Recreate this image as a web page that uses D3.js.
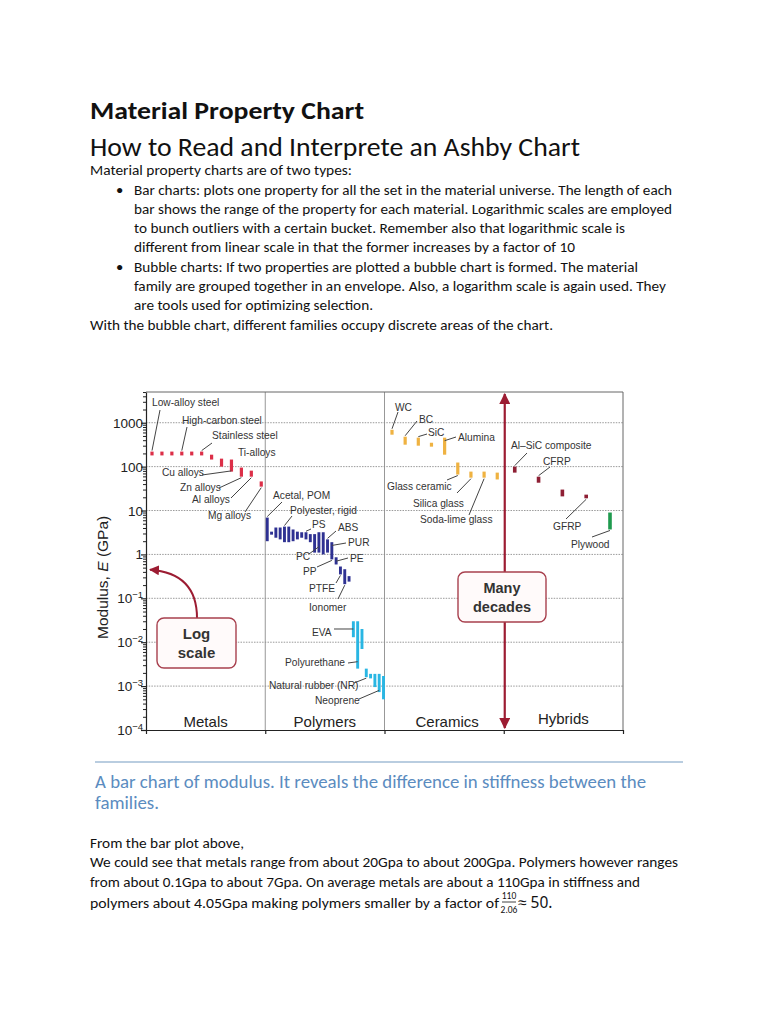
<!DOCTYPE html>
<html>
<head>
<meta charset="utf-8">
<script src="https://cdn.jsdelivr.net/npm/d3@7"></script>
<style>
	body { margin: 0; background: #fff; }
	svg { display: block; }
</style>
</head>
<body>
<svg id="page" width="768" height="1024"></svg>
<script>
// modulus ranges (GPa), one entry per bar
const families = ['Metals', 'Polymers', 'Ceramics', 'Hybrids']
const metalsLo = [180, 180, 180, 180, 180, 180, 145, 100, 77, 59, 59, 35]
const metalsHi = [220, 220, 220, 220, 220, 220, 187, 152, 145, 95, 81, 46]
const polymersLo = [2.0, 2.9, 2.4, 2.2, 1.9, 1.9, 2.0, 2.2, 2.4, 2.2, 1.9, 1.1, 1.1, 1.0, 1.1, 0.77, 0.59, 0.35, 0.21, 0.24]
const polymersHi = [6.9, 3.3, 4.1, 4.1, 4.3, 4.3, 3.7, 3.3, 3.2, 3.2, 2.9, 2.9, 3.2, 3.2, 2.2, 1.9, 0.86, 0.53, 0.46, 0.32]
const elastomersLo = [0.013, 0.0025, 0.007, 0.0016, 0.0015, 0.00095, 0.00073, 0.0005]
const elastomersHi = [0.03, 0.03, 0.02, 0.0025, 0.0019, 0.0019, 0.0019, 0.0017]
const ceramicsLo = [534, 316, 300, 285, 187, 66, 56, 56, 51]
const ceramicsHi = [690, 480, 457, 350, 457, 124, 77, 77, 73]
const hybridsLo = [73, 43, 21, 19, 3.7]
const hybridsHi = [100, 59, 30, 23, 9]
const yTickValues = [1e-4, 1e-3, 1e-2, 1e-1, 1, 10, 100, 1000]
const yTickLabels = [['10', '−4'], ['10', '−3'], ['10', '−2'], ['10', '−1'], ['1'], ['10'], ['100'], ['1000']]

// page text
const docFont = 'Carlito, Lato, sans-serif'
const chartFont = '"Liberation Sans", Arial, sans-serif'

const headLines = [
	{ t: 'Material Property Chart', x: 90, y: 119, w: 274, size: 24, weight: 700 },
	{ t: 'How to Read and Interprete an Ashby Chart', x: 90, y: 156, w: 490, size: 26.7 },
	{ t: 'Material property charts are of two types:', x: 90, y: 175, w: 262 },
	{ t: 'Bar charts: plots one property for all the set in the material universe. The length of each', x: 134, y: 194.5, w: 538 },
	{ t: 'bar shows the range of the property for each material. Logarithmic scales are employed', x: 134, y: 213.8, w: 538 },
	{ t: 'to bunch outliers with a certain bucket. Remember also that logarithmic scale is', x: 134, y: 233, w: 491 },
	{ t: 'different from linear scale in that the former increases by a factor of 10', x: 134, y: 252.4, w: 441 },
	{ t: 'Bubble charts: If two properties are plotted a bubble chart is formed. The material', x: 134, y: 271.7, w: 504 },
	{ t: 'family are grouped together in an envelope. Also, a logarithm scale is again used. They', x: 134, y: 291, w: 532 },
	{ t: 'are tools used for optimizing selection.', x: 134, y: 310.3, w: 239 },
	{ t: 'With the bubble chart, different families occupy discrete areas of the chart.', x: 90, y: 329.6, w: 463 },
	{ t: 'A bar chart of modulus. It reveals the difference in stiffness between the', x: 95, y: 788, w: 551, size: 17.3, color: '#5b8cc0' },
	{ t: 'families.', x: 95, y: 809, w: 64, size: 17.3, color: '#5b8cc0' },
	{ t: 'From the bar plot above,', x: 90, y: 848, w: 154 },
	{ t: 'We could see that metals range from about 20Gpa to about 200Gpa. Polymers however ranges', x: 90, y: 867, w: 588 },
	{ t: 'from about 0.1Gpa to about 7Gpa. On average metals are about a 110Gpa in stiffness and', x: 90, y: 886.5, w: 550 },
	{ t: 'polymers about 4.05Gpa making polymers smaller by a factor of', x: 90, y: 908, w: 409 }
]
const bulletRows = [194.5, 271.7]

// chart layout
const plot = { left: 146, right: 623, top: 392, bottom: 730 }
const colInset = { Metals: [6, 4], Polymers: [2, 1], Ceramics: [7.5, 6.5], Hybrids: [11, 13] }
const barWidth = { Metals: 3.2, Polymers: 2.9, Ceramics: 3.2, Hybrids: 3.6 }
const labelColor = '#333'
const leaderColor = '#444'
const arrowColor = '#9c1c32'

const groups = [
	{ key: 'metals', family: 'Metals', lo: metalsLo, hi: metalsHi, color: () => '#dc2f48' },
	{ key: 'polymers', family: 'Polymers', lo: polymersLo, hi: polymersHi, color: () => '#2e3192' },
	{ key: 'elastomers', family: 'Polymers', lo: elastomersLo, hi: elastomersHi, color: () => '#29b6e3' },
	{ key: 'ceramics', family: 'Ceramics', lo: ceramicsLo, hi: ceramicsHi, color: () => '#efb241' },
	{ key: 'hybrids', family: 'Hybrids', lo: hybridsLo, hi: hybridsHi, color: (i) => i === 4 ? '#1f9a4e' : '#8e1f34' }
]

// label text, text anchor (px), leader start (px), leader end on bar [group, index, 'hi' | 'lo' | value]
const annotations = [
	{ t: 'Low-alloy steel', x: 152, y: 406, from: [160, 410], to: ['metals', 0, 'hi'] },
	{ t: 'High-carbon steel', x: 182, y: 424, from: [187, 427], to: ['metals', 3, 'hi'] },
	{ t: 'Stainless steel', x: 212, y: 439, from: [212, 443], to: ['metals', 5, 'hi'] },
	{ t: 'Ti-alloys', x: 238, y: 456 },
	{ t: 'Cu alloys', x: 162, y: 476, from: [202, 475], to: ['metals', 8, 80] },
	{ t: 'Zn alloys', x: 180, y: 491, from: [219, 488], to: ['metals', 9, 'lo'] },
	{ t: 'Al alloys', x: 192, y: 503, from: [231, 498], to: ['metals', 10, 'lo'] },
	{ t: 'Mg alloys', x: 208, y: 519, from: [245, 512], to: ['metals', 11, 'lo'] },
	{ t: 'Acetal, POM', x: 273, y: 499, from: [282, 502], to: ['polymers', 0, 'hi'] },
	{ t: 'Polyester, rigid', x: 290, y: 514, from: [292, 516], to: ['polymers', 4, 'hi'] },
	{ t: 'PS', x: 312, y: 528, from: [311, 529], to: ['polymers', 9, 'hi'] },
	{ t: 'ABS', x: 338, y: 531, from: [336, 531], to: ['polymers', 14, 'hi'] },
	{ t: 'PUR', x: 348, y: 546, from: [346, 543], to: ['polymers', 15, 1.6] },
	{ t: 'PE', x: 350, y: 562, from: [348, 558], to: ['polymers', 16, 0.7] },
	{ t: 'PC', x: 296, y: 560, from: [309, 554], to: ['polymers', 12, 1.5] },
	{ t: 'PP', x: 303, y: 575, from: [317, 567], to: ['polymers', 15, 'lo'] },
	{ t: 'PTFE', x: 309, y: 592, from: [336, 583], to: ['polymers', 17, 'lo'] },
	{ t: 'Ionomer', x: 309, y: 611, from: [338, 599], to: ['polymers', 18, 'lo'] },
	{ t: 'EVA', x: 312, y: 636, from: [334, 629], to: ['elastomers', 0, 0.02] },
	{ t: 'Polyurethane', x: 285, y: 666, from: [348, 663], to: ['elastomers', 1, 0.0036] },
	{ t: 'Natural rubber (NR)', x: 269, y: 689, from: [354, 683], to: ['elastomers', 3, 'lo'] },
	{ t: 'Neoprene', x: 315, y: 704, from: [359, 699], to: ['elastomers', 6, 0.0008] },
	{ t: 'WC', x: 395, y: 411, from: [398, 412], to: ['ceramics', 0, 'hi'] },
	{ t: 'BC', x: 419, y: 423, from: [417, 421], to: ['ceramics', 1, 'hi'] },
	{ t: 'SiC', x: 428, y: 436, from: [427, 434], to: ['ceramics', 2, 'hi'] },
	{ t: 'Alumina', x: 458, y: 441, from: [456, 437], to: ['ceramics', 4, 390] },
	{ t: 'Glass ceramic', x: 387, y: 490, from: [447, 480], to: ['ceramics', 5, 'lo'] },
	{ t: 'Silica glass', x: 413, y: 507, from: [457, 493], to: ['ceramics', 6, 'lo'] },
	{ t: 'Soda-lime glass', x: 420, y: 523, from: [469, 515], to: ['ceramics', 7, 'lo'] },
	{ t: 'Al–SiC composite', x: 511, y: 449, from: [527, 453], to: ['hybrids', 0, 'hi'] },
	{ t: 'CFRP', x: 543, y: 465, from: [550, 467], to: ['hybrids', 1, 'hi'] },
	{ t: 'GFRP', x: 553, y: 530, from: [566, 519], to: ['hybrids', 3, 'lo'] },
	{ t: 'Plywood', x: 571, y: 548, from: [592, 537], to: ['hybrids', 4, 'lo'] }
]

const svg = d3.select('#page')

// ---------- document text ----------
const gText = svg.append('g').attr('font-family', docFont).attr('fill', '#111')

gText.selectAll('text.line')
	.data(headLines)
	.enter()
	.append('text')
	.attr('class', 'line')
	.attr('x', (d) => d.x)
	.attr('y', (d) => d.y)
	.attr('font-size', (d) => d.size || 14.67)
	.attr('font-weight', (d) => d.weight || 400)
	.attr('fill', (d) => d.color || '#111')
	.attr('textLength', (d) => d.w)
	.attr('lengthAdjust', 'spacingAndGlyphs')
	.text((d) => d.t)

gText.selectAll('text.bullet')
	.data(bulletRows)
	.enter()
	.append('text')
	.attr('class', 'bullet')
	.attr('x', 116)
	.attr('y', (d) => d)
	.attr('font-size', 14.67)
	.text('•')

// caption rule
svg.append('line')
	.attr('x1', 95).attr('x2', 683)
	.attr('y1', 762).attr('y2', 762)
	.attr('stroke', '#b9cde0')
	.attr('stroke-width', 2)

// fraction 110 / 2.06 ≈ 50.
const frac = svg.append('g').attr('font-family', docFont).attr('fill', '#111')
frac.append('text').attr('x', 509).attr('y', 899).attr('text-anchor', 'middle').attr('font-size', 9.5).text('110')
frac.append('line').attr('x1', 502).attr('x2', 516).attr('y1', 902).attr('y2', 902).attr('stroke', '#111').attr('stroke-width', 0.8)
frac.append('text').attr('x', 509).attr('y', 913).attr('text-anchor', 'middle').attr('font-size', 9.5).text('2.06')
frac.append('text').attr('x', 518).attr('y', 908).attr('font-size', 15.5).attr('font-family', '"Noto Sans", sans-serif').text('≈ 50.')

// ---------- chart ----------
const y = d3.scaleLog()
	.domain([1e-4, Math.pow(10, 3.7)])
	.range([plot.bottom, plot.top])

const col = d3.scaleBand()
	.domain(families)
	.range([plot.left, plot.right])

const colEdge = d3.scaleLinear()
	.domain([0, families.length])
	.range([plot.left, plot.right])

// one point scale per column, over every bar in that column
const slotScale = {}
families.forEach((f) => {
	const n = d3.sum(groups.filter((g) => g.family === f), (g) => g.lo.length)
	slotScale[f] = d3.scalePoint()
		.domain(d3.range(n))
		.range([col(f) + colInset[f][0], col(f) + col.bandwidth() - colInset[f][1]])
})

const bars = []
families.forEach((f) => {
	let slot = 0
	groups.filter((g) => g.family === f).forEach((g) => {
		g.lo.forEach((lo, i) => {
			bars.push({ group: g.key, family: f, i, slot, lo, hi: g.hi[i], color: g.color(i) })
			slot++
		})
	})
})
const barX = (d) => slotScale[d.family](d.slot)
const findBar = (key, i) => bars.find((b) => b.group === key && b.i === i)

const gChart = svg.append('g').attr('font-family', chartFont)

// gridlines at each decade
gChart.append('g')
	.selectAll('line')
	.data(yTickValues.slice(1))
	.enter()
	.append('line')
	.attr('x1', plot.left)
	.attr('x2', plot.right)
	.attr('y1', (d) => y(d))
	.attr('y2', (d) => y(d))
	.attr('stroke', '#9a9a9a')
	.attr('stroke-width', 1)
	.attr('stroke-dasharray', '1.5,1.2')

// column dividers
gChart.append('g')
	.selectAll('line')
	.data([1, 2])
	.enter()
	.append('line')
	.attr('x1', (d) => colEdge(d))
	.attr('x2', (d) => colEdge(d))
	.attr('y1', plot.top)
	.attr('y2', plot.bottom)
	.attr('stroke', '#8c8c8c')
	.attr('stroke-width', 0.9)

// frame top and right
gChart.append('path')
	.attr('d', `M${plot.left},${plot.top}H${plot.right}V${plot.bottom}`)
	.attr('fill', 'none')
	.attr('stroke', '#666')
	.attr('stroke-width', 1)

// left axis with minor ticks
const minor = []
for (let e = -4; e <= 3; e++) {
	for (let k = 2; k <= 9; k++) {
		const v = k * Math.pow(10, e)
		if (v <= y.domain()[1]) minor.push(v)
	}
}
gChart.append('g')
	.attr('transform', `translate(${plot.left},0)`)
	.call(d3.axisLeft(y).tickValues(minor).tickSize(3).tickFormat(''))
	.call((g) => g.select('.domain').remove())
	.call((g) => g.selectAll('line').attr('stroke', '#222'))

const yAxis = gChart.append('g')
	.attr('transform', `translate(${plot.left},0)`)
	.call(d3.axisLeft(y).tickValues(yTickValues).tickSize(5).tickSizeOuter(0).tickFormat(''))
yAxis.select('.domain').attr('stroke', '#222').attr('stroke-width', 1.2)
yAxis.selectAll('line').attr('stroke', '#222').attr('stroke-width', 1.2)

gChart.append('g')
	.selectAll('text')
	.data(yTickValues)
	.enter()
	.append('text')
	.attr('x', plot.left - 3)
	.attr('y', (d) => y(d) + 5)
	.attr('text-anchor', 'end')
	.attr('font-size', 13.5)
	.attr('fill', '#222')
	.each(function (d, i) {
		const parts = yTickLabels[i]
		const t = d3.select(this)
		t.append('tspan').text(parts[0])
		if (parts[1]) {
			t.append('tspan').attr('dy', -5).attr('font-size', 9.5).text(parts[1])
		}
	})

// bottom axis, ticks at column edges
const xAxis = gChart.append('g')
	.attr('transform', `translate(0,${plot.bottom})`)
	.call(d3.axisBottom(colEdge).tickValues(d3.range(families.length + 1)).tickSize(4).tickSizeOuter(0).tickFormat(''))
xAxis.select('.domain').attr('stroke', '#222').attr('stroke-width', 1.2)
xAxis.selectAll('line').attr('stroke', '#222').attr('stroke-width', 1.2)

// family names
gChart.append('g')
	.selectAll('text')
	.data(families)
	.enter()
	.append('text')
	.attr('x', (d) => col(d) + col.bandwidth() / 2 + (d === 'Ceramics' ? 3 : 0))
	.attr('y', (d) => d === 'Hybrids' ? 724 : 727)
	.attr('text-anchor', 'middle')
	.attr('font-size', 15)
	.attr('fill', '#222')
	.text((d) => d)

// y title
const yTitle = gChart.append('text')
	.attr('transform', `translate(108,${y(0.3)}) rotate(-90)`)
	.attr('text-anchor', 'middle')
	.attr('font-size', 15.5)
	.attr('fill', '#222')
yTitle.append('tspan').text('Modulus, ')
yTitle.append('tspan').attr('font-style', 'italic').text('E')
yTitle.append('tspan').text(' (GPa)')

// bars
gChart.append('g')
	.selectAll('rect')
	.data(bars)
	.enter()
	.append('rect')
	.attr('x', (d) => barX(d) - barWidth[d.family] / 2)
	.attr('width', (d) => barWidth[d.family])
	.attr('y', (d) => y(d.hi))
	.attr('height', (d) => Math.max(3, y(d.lo) - y(d.hi)))
	.attr('fill', (d) => d.color)

// leader lines and labels
const leaderEnd = (to) => {
	const b = findBar(to[0], to[1])
	const v = to[2] === 'hi' ? b.hi : to[2] === 'lo' ? b.lo : to[2]
	let yy = y(v)
	if (to[2] === 'hi') yy -= 1
	if (to[2] === 'lo') yy += 1
	return [barX(b), yy]
}

gChart.append('g')
	.selectAll('line')
	.data(annotations.filter((a) => a.from))
	.enter()
	.append('line')
	.attr('x1', (d) => d.from[0])
	.attr('y1', (d) => d.from[1])
	.attr('x2', (d) => leaderEnd(d.to)[0])
	.attr('y2', (d) => leaderEnd(d.to)[1])
	.attr('stroke', leaderColor)
	.attr('stroke-width', 1)

gChart.append('g')
	.selectAll('text')
	.data(annotations)
	.enter()
	.append('text')
	.attr('x', (d) => d.x)
	.attr('y', (d) => d.y)
	.attr('font-size', 10.2)
	.attr('fill', labelColor)
	.text((d) => d.t)

// arrow markers
const defs = svg.append('defs')
defs.append('marker')
	.attr('id', 'head')
	.attr('viewBox', '0 0 10 10')
	.attr('refX', 9)
	.attr('refY', 5)
	.attr('markerWidth', 5)
	.attr('markerHeight', 5)
	.attr('markerUnits', 'strokeWidth')
	.attr('orient', 'auto-start-reverse')
	.append('path')
	.attr('d', 'M0,0L10,5L0,10z')
	.attr('fill', arrowColor)

// "many decades" double arrow on the ceramics / hybrids edge
const arrowX = colEdge(3) + 1
gChart.append('line')
	.attr('x1', arrowX).attr('x2', arrowX)
	.attr('y1', plot.top + 2).attr('y2', plot.bottom - 2)
	.attr('stroke', arrowColor)
	.attr('stroke-width', 2.2)
	.attr('marker-start', 'url(#head)')
	.attr('marker-end', 'url(#head)')

// curved arrow to the axis
gChart.append('path')
	.attr('d', `M197,618 C197,590 184,572 ${plot.left + 4},${y(0.45)}`)
	.attr('fill', 'none')
	.attr('stroke', arrowColor)
	.attr('stroke-width', 2)
	.attr('marker-end', 'url(#head)')

// call-out boxes
const callouts = [
	{ lines: ['Log', 'scale'], x: 157, y: 618, w: 79, h: 50, size: 15 },
	{ lines: ['Many', 'decades'], x: 458, y: 572, w: 88, h: 50, size: 14.5 }
]
const gCall = gChart.append('g')
	.selectAll('g')
	.data(callouts)
	.enter()
	.append('g')
gCall.append('rect')
	.attr('x', (d) => d.x)
	.attr('y', (d) => d.y)
	.attr('width', (d) => d.w)
	.attr('height', (d) => d.h)
	.attr('rx', 7)
	.attr('fill', '#fffafa')
	.attr('stroke', '#a8404e')
	.attr('stroke-width', 1.4)
gCall.each(function (d) {
	d3.select(this).selectAll('text')
		.data(d.lines)
		.enter()
		.append('text')
		.attr('x', d.x + d.w / 2)
		.attr('y', (_, i) => d.y + 21 + i * 19)
		.attr('text-anchor', 'middle')
		.attr('font-size', d.size)
		.attr('font-weight', 700)
		.attr('fill', '#333')
		.text((t) => t)
})
</script>
</body>
</html>
